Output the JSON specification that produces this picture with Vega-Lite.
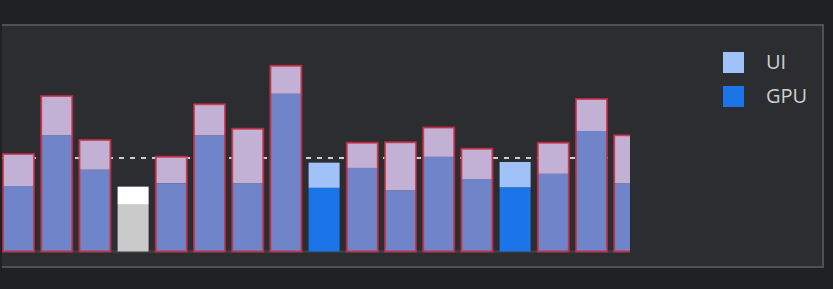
{
  "$schema": "https://vega.github.io/schema/vega-lite/v6.json",
  "background": "#202125",
  "padding": {"left": 0, "top": 24, "right": 12, "bottom": 23},
  "spacing": 0,
  "bounds": "flush",
  "config": {
    "view": {"fill": "#2c2d31", "stroke": "#505154", "strokeWidth": 2, "strokeDash": [628, 242]},
    "legend": {
      "symbolType": "square",
      "symbolSize": 441,
      "symbolStrokeWidth": 0,
      "symbolOpacity": 1,
      "labelFont": "Open Sans",
      "labelFontSize": 20,
      "labelColor": "#cfcfcf",
      "labelOffset": 22,
      "rowPadding": 13,
      "padding": 0
    }
  },
  "datasets": {
    "frames": [
      {"frame": 1, "phase": "GPU", "status": "jank", "ms": 11.2},
      {"frame": 1, "phase": "UI", "status": "jank", "ms": 5.5},
      {"frame": 2, "phase": "GPU", "status": "jank", "ms": 19.9},
      {"frame": 2, "phase": "UI", "status": "jank", "ms": 6.7},
      {"frame": 3, "phase": "GPU", "status": "jank", "ms": 14.0},
      {"frame": 3, "phase": "UI", "status": "jank", "ms": 5.1},
      {"frame": 4, "phase": "GPU", "status": "idle", "ms": 8.0},
      {"frame": 4, "phase": "UI", "status": "idle", "ms": 3.1},
      {"frame": 5, "phase": "GPU", "status": "jank", "ms": 11.7},
      {"frame": 5, "phase": "UI", "status": "jank", "ms": 4.5},
      {"frame": 6, "phase": "GPU", "status": "jank", "ms": 19.9},
      {"frame": 6, "phase": "UI", "status": "jank", "ms": 5.3},
      {"frame": 7, "phase": "GPU", "status": "jank", "ms": 11.7},
      {"frame": 7, "phase": "UI", "status": "jank", "ms": 9.3},
      {"frame": 8, "phase": "GPU", "status": "jank", "ms": 27.0},
      {"frame": 8, "phase": "UI", "status": "jank", "ms": 4.8},
      {"frame": 9, "phase": "GPU", "status": "ok", "ms": 10.9},
      {"frame": 9, "phase": "UI", "status": "ok", "ms": 4.3},
      {"frame": 10, "phase": "GPU", "status": "jank", "ms": 14.3},
      {"frame": 10, "phase": "UI", "status": "jank", "ms": 4.3},
      {"frame": 11, "phase": "GPU", "status": "jank", "ms": 10.5},
      {"frame": 11, "phase": "UI", "status": "jank", "ms": 8.2},
      {"frame": 12, "phase": "GPU", "status": "jank", "ms": 16.2},
      {"frame": 12, "phase": "UI", "status": "jank", "ms": 5.0},
      {"frame": 13, "phase": "GPU", "status": "jank", "ms": 12.4},
      {"frame": 13, "phase": "UI", "status": "jank", "ms": 5.2},
      {"frame": 14, "phase": "GPU", "status": "ok", "ms": 11.0},
      {"frame": 14, "phase": "UI", "status": "ok", "ms": 4.3},
      {"frame": 15, "phase": "GPU", "status": "jank", "ms": 13.3},
      {"frame": 15, "phase": "UI", "status": "jank", "ms": 5.3},
      {"frame": 16, "phase": "GPU", "status": "jank", "ms": 20.6},
      {"frame": 16, "phase": "UI", "status": "jank", "ms": 5.5},
      {"frame": 17, "phase": "GPU", "status": "jank", "ms": 11.7},
      {"frame": 17, "phase": "UI", "status": "jank", "ms": 8.2}
    ]
  },
  "hconcat": [
    {
      "width": 628,
      "height": 242,
      "data": {"name": "frames"},
      "transform": [
        {"calculate": "datum.status == 'ok' ? datum.phase : datum.phase + ' ' + datum.status", "as": "key"}
      ],
      "layer": [
        {
          "mark": {"type": "rule", "color": "#3c3d41", "strokeWidth": 2},
          "encoding": {
            "y": {"datum": 0, "type": "quantitative", "scale": {"domain": [-2.652, 38.76], "nice": false, "zero": false}, "axis": null}
          }
        },
        {
          "mark": {"type": "rule", "color": "#cfcfcf", "strokeWidth": 2, "strokeDash": [5, 6]},
          "encoding": {
            "y": {"datum": 16, "type": "quantitative"}
          }
        },
        {
          "mark": {"type": "bar", "clip": true},
          "encoding": {
            "x": {
              "field": "frame", "type": "ordinal", "axis": null,
              "scale": {"type": "band", "domain": [1,2,3,4,5,6,7,8,9,10,11,12,13,14,15,16,17], "range": [1, 643.2], "paddingInner": 0.188, "paddingOuter": 0}
            },
            "y": {"field": "ms", "type": "quantitative", "stack": "zero"},
            "order": {"field": "phase", "sort": "ascending"},
            "color": {
              "field": "key", "type": "nominal",
              "scale": {
                "domain": ["UI", "GPU", "UI jank", "GPU jank", "UI idle", "GPU idle"],
                "range": ["#a0c2f8", "#1b74e8", "#c2b1d4", "#7085c9", "#ffffff", "#cacaca"]
              },
              "legend": {"title": null, "values": ["UI", "GPU"], "orient": "none", "legendX": 721, "legendY": 27}
            }
          }
        },
        {
          "transform": [{"filter": "datum.status == 'jank'"}],
          "mark": {"type": "bar", "clip": true, "fill": "transparent", "stroke": "#cc2a40", "strokeOpacity": 0.8, "strokeWidth": 2},
          "encoding": {
            "x": {"field": "frame", "type": "ordinal"},
            "y": {"aggregate": "sum", "field": "ms", "type": "quantitative"},
            "y2": {"datum": 0}
          }
        }
      ]
    },
    {
      "width": 193,
      "height": 242,
      "data": {"values": [{"v": 1}]},
      "mark": {"type": "rule", "opacity": 0, "strokeWidth": 0},
      "encoding": {
        "y": {"datum": 1, "type": "quantitative", "axis": null, "scale": {"domain": [0, 2]}}
      }
    }
  ]
}
